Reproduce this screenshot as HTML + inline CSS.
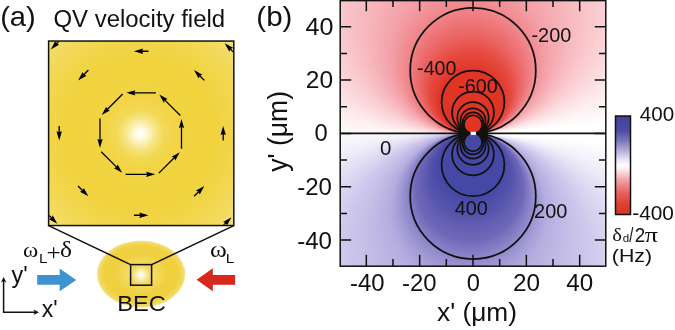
<!DOCTYPE html>
<html><head><meta charset="utf-8">
<style>
html,body{margin:0;padding:0;background:#fff;}
svg{display:block;}
text{font-family:"Liberation Sans",Arial,sans-serif;fill:#111;}
.serif{font-family:"Liberation Serif","Times New Roman",serif;}
</style></head>
<body>
<svg width="675" height="330" viewBox="0 0 675 330">
<defs>
<radialGradient id="boxg" gradientUnits="userSpaceOnUse" cx="140.4" cy="133.5" r="135">
<stop offset="0" stop-color="#ffffff"/>
<stop offset="0.03" stop-color="#fffbea"/>
<stop offset="0.07" stop-color="#fcf1bc"/>
<stop offset="0.12" stop-color="#f7e380"/>
<stop offset="0.18" stop-color="#f3d855"/>
<stop offset="0.27" stop-color="#f2d445"/>
<stop offset="0.5" stop-color="#f1d23c"/>
<stop offset="0.68" stop-color="#f2d548"/>
<stop offset="0.85" stop-color="#f3da5e"/>
<stop offset="1" stop-color="#f5e07a"/>
</radialGradient>
<radialGradient id="becg" gradientUnits="userSpaceOnUse" cx="141.1" cy="274" r="44.3" gradientTransform="translate(141.1 274) scale(1 0.756) translate(-141.1 -274)">
<stop offset="0" stop-color="#f7e592"/>
<stop offset="0.3" stop-color="#f4da66"/>
<stop offset="0.6" stop-color="#f0d040"/>
<stop offset="0.82" stop-color="#f0d03e"/>
<stop offset="0.92" stop-color="#f2d656"/>
<stop offset="0.97" stop-color="#f4de78"/>
<stop offset="1" stop-color="#f7e8a4"/>
</radialGradient>
<radialGradient id="sqg" gradientUnits="userSpaceOnUse" cx="141" cy="275" r="13">
<stop offset="0" stop-color="#ffffff"/>
<stop offset="0.2" stop-color="#fdf6d8"/>
<stop offset="0.5" stop-color="#f7e48e"/>
<stop offset="0.8" stop-color="#f2d65a"/>
<stop offset="1" stop-color="#f1d24a"/>
</radialGradient>
<linearGradient id="cbar" x1="0" y1="0" x2="0" y2="1">
<stop offset="0" stop-color="#42429c"/>
<stop offset="0.15" stop-color="#4c4ca2"/>
<stop offset="0.25" stop-color="#7876b8"/>
<stop offset="0.37" stop-color="#bdb9de"/>
<stop offset="0.45" stop-color="#ebe8f4"/>
<stop offset="0.5" stop-color="#fefefe"/>
<stop offset="0.55" stop-color="#fbe8ea"/>
<stop offset="0.65" stop-color="#f2a2a8"/>
<stop offset="0.78" stop-color="#e6625e"/>
<stop offset="0.9" stop-color="#de3e30"/>
<stop offset="1" stop-color="#dc3424"/>
</linearGradient>

<clipPath id="plot"><rect x="340" y="0" width="266" height="266"/></clipPath>
<clipPath id="top"><rect x="340" y="0" width="266" height="133.4"/></clipPath>
<clipPath id="bot"><rect x="340" y="133.4" width="266" height="133"/></clipPath>
<clipPath id="boxclip"><rect x="49.3" y="41.8" width="183.7" height="183"/></clipPath>
</defs>

<!-- ========== panel (a) ========== -->
<rect x="48.6" y="41.05" width="185.2" height="184.5" fill="url(#boxg)" stroke="#111" stroke-width="1.5"/>
<g clip-path="url(#boxclip)">
<line x1="148.50" y1="51.20" x2="141.60" y2="51.20" stroke="#000" stroke-width="1.35"/><path d="M133.90 51.20 L143.10 48.50 L142.10 51.20 L143.10 53.90 Z" fill="#000"/>
<line x1="204.34" y1="80.38" x2="199.47" y2="75.50" stroke="#000" stroke-width="1.35"/><path d="M194.02 70.06 L202.44 74.65 L199.82 75.85 L198.62 78.47 Z" fill="#000"/>
<line x1="223.20" y1="140.50" x2="223.20" y2="133.60" stroke="#000" stroke-width="1.35"/><path d="M223.20 125.90 L225.90 135.10 L223.20 134.10 L220.50 135.10 Z" fill="#000"/>
<line x1="194.02" y1="196.34" x2="198.90" y2="191.47" stroke="#000" stroke-width="1.35"/><path d="M204.34 186.02 L199.75 194.44 L198.55 191.82 L195.93 190.62 Z" fill="#000"/>
<line x1="133.90" y1="215.20" x2="140.80" y2="215.20" stroke="#000" stroke-width="1.35"/><path d="M148.50 215.20 L139.30 217.90 L140.30 215.20 L139.30 212.50 Z" fill="#000"/>
<line x1="78.06" y1="186.02" x2="82.93" y2="190.90" stroke="#000" stroke-width="1.35"/><path d="M88.38 196.34 L79.96 191.75 L82.58 190.55 L83.78 187.93 Z" fill="#000"/>
<line x1="59.20" y1="125.90" x2="59.20" y2="132.80" stroke="#000" stroke-width="1.35"/><path d="M59.20 140.50 L56.50 131.30 L59.20 132.30 L61.90 131.30 Z" fill="#000"/>
<line x1="88.38" y1="70.06" x2="83.50" y2="74.93" stroke="#000" stroke-width="1.35"/><path d="M78.06 80.38 L82.65 71.96 L83.85 74.58 L86.47 75.78 Z" fill="#000"/>
<line x1="61.02" y1="39.08" x2="56.14" y2="43.96" stroke="#000" stroke-width="1.35"/><path d="M50.70 49.40 L55.30 40.99 L56.50 43.60 L59.11 44.80 Z" fill="#000"/>
<line x1="235.02" y1="53.62" x2="230.14" y2="48.74" stroke="#000" stroke-width="1.35"/><path d="M224.70 43.30 L233.11 47.90 L230.50 49.10 L229.30 51.71 Z" fill="#000"/>
<line x1="46.98" y1="213.38" x2="51.86" y2="218.26" stroke="#000" stroke-width="1.35"/><path d="M57.30 223.70 L48.89 219.10 L51.50 217.90 L52.70 215.29 Z" fill="#000"/>
<line x1="221.18" y1="227.62" x2="226.06" y2="222.74" stroke="#000" stroke-width="1.35"/><path d="M231.50 217.30 L226.90 225.71 L225.70 223.10 L223.09 221.90 Z" fill="#000"/>
<line x1="155.93" y1="92.85" x2="133.77" y2="92.85" stroke="#000" stroke-width="1.30"/><path d="M126.27 92.85 L135.27 90.25 L134.27 92.85 L135.27 95.45 Z" fill="#000"/>
<line x1="122.67" y1="94.05" x2="107.00" y2="109.72" stroke="#000" stroke-width="1.30"/><path d="M101.70 115.02 L106.22 106.82 L107.35 109.37 L109.90 110.50 Z" fill="#000"/>
<line x1="100.00" y1="118.42" x2="100.00" y2="140.58" stroke="#000" stroke-width="1.30"/><path d="M100.00 148.08 L97.40 139.08 L100.00 140.08 L102.60 139.08 Z" fill="#000"/>
<line x1="101.20" y1="151.68" x2="116.87" y2="167.35" stroke="#000" stroke-width="1.30"/><path d="M122.17 172.65 L113.97 168.13 L116.52 167.00 L117.65 164.45 Z" fill="#000"/>
<line x1="125.57" y1="174.35" x2="147.73" y2="174.35" stroke="#000" stroke-width="1.30"/><path d="M155.23 174.35 L146.23 176.95 L147.23 174.35 L146.23 171.75 Z" fill="#000"/>
<line x1="158.83" y1="173.15" x2="174.50" y2="157.48" stroke="#000" stroke-width="1.30"/><path d="M179.80 152.18 L175.28 160.38 L174.15 157.83 L171.60 156.70 Z" fill="#000"/>
<line x1="181.50" y1="148.78" x2="181.50" y2="126.62" stroke="#000" stroke-width="1.30"/><path d="M181.50 119.12 L184.10 128.12 L181.50 127.12 L178.90 128.12 Z" fill="#000"/>
<line x1="180.30" y1="115.52" x2="164.63" y2="99.85" stroke="#000" stroke-width="1.30"/><path d="M159.33 94.55 L167.53 99.07 L164.98 100.20 L163.85 102.75 Z" fill="#000"/>
</g>
<!-- BEC -->
<ellipse cx="141.1" cy="274" rx="44.3" ry="33.5" fill="url(#becg)"/>
<path d="M48.6 225.6 L130.5 264.6 M233.8 225.6 L151.7 264.6" stroke="#111" stroke-width="1.5" fill="none"/>
<rect x="130.6" y="264.6" width="21" height="20.6" fill="url(#sqg)" stroke="#111" stroke-width="1.5"/>
<!-- laser arrows -->
<path d="M37.2 275.1 H59.7 V268.5 L76.2 279.9 L59.7 291.3 V284.7 H37.2 Z" fill="#3d92d0"/>
<path d="M235.1 275.1 H212.8 V268.3 L196.6 279.8 L212.8 291.3 V284.7 H235.1 Z" fill="#d8281e"/>
<!-- coordinate axes -->
<path d="M3.6 280 V312.2 H36" stroke="#111" stroke-width="1.5" fill="none"/>
<path d="M3.6 277 L6.4 282.4 L3.6 281 L0.9 282.4 Z" fill="#111"/>
<path d="M39 312.2 L33.4 315 L35 312.2 L33.4 309.4 Z" fill="#111"/>

<!-- ========== panel (b) ========== -->
<rect x="340" y="0" width="266" height="266" fill="#fff"/>
<g clip-path="url(#top)"><g transform="rotate(-3.5 473 133.4)">
<circle cx="473.0" cy="-3006.60" r="3140.00" fill="#fffdfd"/>
<circle cx="473.0" cy="-1436.60" r="1570.00" fill="#fffbfc"/>
<circle cx="473.0" cy="-913.27" r="1046.67" fill="#fef9fa"/>
<circle cx="473.0" cy="-651.60" r="785.00" fill="#fef7f8"/>
<circle cx="473.0" cy="-494.60" r="628.00" fill="#fef6f6"/>
<circle cx="473.0" cy="-389.93" r="523.33" fill="#fef4f5"/>
<circle cx="473.0" cy="-315.17" r="448.57" fill="#fef2f3"/>
<circle cx="473.0" cy="-259.10" r="392.50" fill="#fdf0f1"/>
<circle cx="473.0" cy="-215.49" r="348.89" fill="#fdeef0"/>
<circle cx="473.0" cy="-180.60" r="314.00" fill="#fdecee"/>
<circle cx="473.0" cy="-152.05" r="285.45" fill="#fde9ec"/>
<circle cx="473.0" cy="-128.27" r="261.67" fill="#fce7e9"/>
<circle cx="473.0" cy="-108.14" r="241.54" fill="#fce4e7"/>
<circle cx="473.0" cy="-90.89" r="224.29" fill="#fce2e5"/>
<circle cx="473.0" cy="-75.93" r="209.33" fill="#fcdfe2"/>
<circle cx="473.0" cy="-62.85" r="196.25" fill="#fbdde0"/>
<circle cx="473.0" cy="-51.31" r="184.71" fill="#fbdade"/>
<circle cx="473.0" cy="-41.04" r="174.44" fill="#fbd8db"/>
<circle cx="473.0" cy="-31.86" r="165.26" fill="#fbd5d9"/>
<circle cx="473.0" cy="-23.60" r="157.00" fill="#fad3d7"/>
<circle cx="473.0" cy="-16.12" r="149.52" fill="#fad0d4"/>
<circle cx="473.0" cy="-9.33" r="142.73" fill="#faced2"/>
<circle cx="473.0" cy="-3.12" r="136.52" fill="#facbd0"/>
<circle cx="473.0" cy="2.57" r="130.83" fill="#f9c9cd"/>
<circle cx="473.0" cy="7.80" r="125.60" fill="#f9c6cb"/>
<circle cx="473.0" cy="12.63" r="120.77" fill="#f9c3c9"/>
<circle cx="473.0" cy="17.10" r="116.30" fill="#f8c1c6"/>
<circle cx="473.0" cy="21.26" r="112.14" fill="#f8bec4"/>
<circle cx="473.0" cy="25.12" r="108.28" fill="#f7bcc1"/>
<circle cx="473.0" cy="28.73" r="104.67" fill="#f7b9bf"/>
<circle cx="473.0" cy="32.11" r="101.29" fill="#f7b7bd"/>
<circle cx="473.0" cy="35.28" r="98.12" fill="#f6b4ba"/>
<circle cx="473.0" cy="38.25" r="95.15" fill="#f6b2b8"/>
<circle cx="473.0" cy="41.05" r="92.35" fill="#f5afb5"/>
<circle cx="473.0" cy="43.69" r="89.71" fill="#f5adb3"/>
<circle cx="473.0" cy="46.18" r="87.22" fill="#f5aab1"/>
<circle cx="473.0" cy="48.54" r="84.86" fill="#f4a8ae"/>
<circle cx="473.0" cy="50.77" r="82.63" fill="#f4a5ac"/>
<circle cx="473.0" cy="52.89" r="80.51" fill="#f3a3a9"/>
<circle cx="473.0" cy="54.90" r="78.50" fill="#f3a0a7"/>
<circle cx="473.0" cy="56.81" r="76.59" fill="#f39da4"/>
<circle cx="473.0" cy="58.64" r="74.76" fill="#f29ba1"/>
<circle cx="473.0" cy="60.38" r="73.02" fill="#f2989e"/>
<circle cx="473.0" cy="62.04" r="71.36" fill="#f2959b"/>
<circle cx="473.0" cy="63.62" r="69.78" fill="#f19298"/>
<circle cx="473.0" cy="65.14" r="68.26" fill="#f19095"/>
<circle cx="473.0" cy="66.59" r="66.81" fill="#f18d92"/>
<circle cx="473.0" cy="67.98" r="65.42" fill="#f08a8f"/>
<circle cx="473.0" cy="69.32" r="64.08" fill="#f0878c"/>
<circle cx="473.0" cy="70.60" r="62.80" fill="#f08589"/>
<circle cx="473.0" cy="71.83" r="61.57" fill="#ef8286"/>
<circle cx="473.0" cy="73.02" r="60.38" fill="#ef7f83"/>
<circle cx="473.0" cy="74.15" r="59.25" fill="#ef7c80"/>
<circle cx="473.0" cy="75.25" r="58.15" fill="#ee7a7d"/>
<circle cx="473.0" cy="76.31" r="57.09" fill="#ee777a"/>
<circle cx="473.0" cy="77.33" r="56.07" fill="#ee7477"/>
<circle cx="473.0" cy="78.31" r="55.09" fill="#ed7174"/>
<circle cx="473.0" cy="79.26" r="54.14" fill="#ed6f71"/>
<circle cx="473.0" cy="80.18" r="53.22" fill="#ec6d6e"/>
<circle cx="473.0" cy="81.07" r="52.33" fill="#ec6b6b"/>
<circle cx="473.0" cy="81.92" r="51.48" fill="#ec6968"/>
<circle cx="473.0" cy="82.75" r="50.65" fill="#eb6766"/>
<circle cx="473.0" cy="83.56" r="49.84" fill="#eb6563"/>
<circle cx="473.0" cy="84.34" r="49.06" fill="#ea6360"/>
<circle cx="473.0" cy="85.09" r="48.31" fill="#ea615d"/>
<circle cx="473.0" cy="85.82" r="47.58" fill="#ea5f5b"/>
<circle cx="473.0" cy="86.53" r="46.87" fill="#e95c58"/>
<circle cx="473.0" cy="87.22" r="46.18" fill="#e95a55"/>
<circle cx="473.0" cy="87.89" r="45.51" fill="#e85852"/>
<circle cx="473.0" cy="88.54" r="44.86" fill="#e85650"/>
<circle cx="473.0" cy="89.17" r="44.23" fill="#e8544d"/>
<circle cx="473.0" cy="89.79" r="43.61" fill="#e7524a"/>
<circle cx="473.0" cy="90.39" r="43.01" fill="#e75047"/>
<circle cx="473.0" cy="90.97" r="42.43" fill="#e64e45"/>
<circle cx="473.0" cy="91.53" r="41.87" fill="#e64c42"/>
<circle cx="473.0" cy="92.08" r="41.32" fill="#e64b41"/>
<circle cx="473.0" cy="92.62" r="40.78" fill="#e64a40"/>
<circle cx="473.0" cy="93.14" r="40.26" fill="#e5493e"/>
<circle cx="473.0" cy="93.65" r="39.75" fill="#e5483d"/>
<circle cx="473.0" cy="94.15" r="39.25" fill="#e5473c"/>
<circle cx="473.0" cy="94.63" r="38.77" fill="#e5463b"/>
<circle cx="473.0" cy="95.11" r="38.29" fill="#e4453a"/>
<circle cx="473.0" cy="95.57" r="37.83" fill="#e44438"/>
<circle cx="473.0" cy="96.02" r="37.38" fill="#e44337"/>
<circle cx="473.0" cy="96.46" r="36.94" fill="#e44236"/>
<circle cx="473.0" cy="96.89" r="36.51" fill="#e34135"/>
<circle cx="473.0" cy="97.31" r="36.09" fill="#e34034"/>
<circle cx="473.0" cy="97.72" r="35.68" fill="#e34032"/>
<circle cx="473.0" cy="98.12" r="35.28" fill="#e33f31"/>
<circle cx="473.0" cy="98.51" r="34.89" fill="#e23e30"/>
<circle cx="473.0" cy="98.89" r="34.51" fill="#e23d2f"/>
<circle cx="473.0" cy="99.27" r="34.13" fill="#e23c2e"/>
<circle cx="473.0" cy="99.64" r="33.76" fill="#e23b2c"/>
<circle cx="473.0" cy="100.00" r="33.40" fill="#e13a2b"/>
<circle cx="473.0" cy="100.35" r="33.05" fill="#e1392a"/>
<circle cx="473.0" cy="100.69" r="32.71" fill="#e13829"/>
<circle cx="473.0" cy="101.03" r="32.37" fill="#e13728"/>
<circle cx="473.0" cy="101.36" r="32.04" fill="#e03626"/>
<circle cx="473.0" cy="101.68" r="31.72" fill="#e03525"/>
<circle cx="473.0" cy="102.00" r="31.40" fill="#e03424"/>
</g></g>
<g clip-path="url(#bot)"><g transform="rotate(3.5 473 133.4)">
<circle cx="473.0" cy="3273.40" r="3140.00" fill="#fefdfe"/>
<circle cx="473.0" cy="1703.40" r="1570.00" fill="#fcfbfe"/>
<circle cx="473.0" cy="1180.07" r="1046.67" fill="#fafafd"/>
<circle cx="473.0" cy="918.40" r="785.00" fill="#f9f8fd"/>
<circle cx="473.0" cy="761.40" r="628.00" fill="#f8f6fc"/>
<circle cx="473.0" cy="656.73" r="523.33" fill="#f6f4fb"/>
<circle cx="473.0" cy="581.97" r="448.57" fill="#f4f2fb"/>
<circle cx="473.0" cy="525.90" r="392.50" fill="#f3f1fa"/>
<circle cx="473.0" cy="482.29" r="348.89" fill="#f2effa"/>
<circle cx="473.0" cy="447.40" r="314.00" fill="#f0edf9"/>
<circle cx="473.0" cy="418.85" r="285.45" fill="#eeebf8"/>
<circle cx="473.0" cy="395.07" r="261.67" fill="#ece8f7"/>
<circle cx="473.0" cy="374.94" r="241.54" fill="#e9e6f6"/>
<circle cx="473.0" cy="357.69" r="224.29" fill="#e7e3f6"/>
<circle cx="473.0" cy="342.73" r="209.33" fill="#e5e1f5"/>
<circle cx="473.0" cy="329.65" r="196.25" fill="#e3def4"/>
<circle cx="473.0" cy="318.11" r="184.71" fill="#e1dcf3"/>
<circle cx="473.0" cy="307.84" r="174.44" fill="#ded9f2"/>
<circle cx="473.0" cy="298.66" r="165.26" fill="#dcd7f1"/>
<circle cx="473.0" cy="290.40" r="157.00" fill="#dad4f0"/>
<circle cx="473.0" cy="282.92" r="149.52" fill="#d8d2ef"/>
<circle cx="473.0" cy="276.13" r="142.73" fill="#d6cfef"/>
<circle cx="473.0" cy="269.92" r="136.52" fill="#d3cdee"/>
<circle cx="473.0" cy="264.23" r="130.83" fill="#d1caed"/>
<circle cx="473.0" cy="259.00" r="125.60" fill="#cfc8ec"/>
<circle cx="473.0" cy="254.17" r="120.77" fill="#cdc6eb"/>
<circle cx="473.0" cy="249.70" r="116.30" fill="#cbc4ea"/>
<circle cx="473.0" cy="245.54" r="112.14" fill="#cac2e9"/>
<circle cx="473.0" cy="241.68" r="108.28" fill="#c8c1e8"/>
<circle cx="473.0" cy="238.07" r="104.67" fill="#c6bfe7"/>
<circle cx="473.0" cy="234.69" r="101.29" fill="#c4bde6"/>
<circle cx="473.0" cy="231.53" r="98.12" fill="#c2bbe5"/>
<circle cx="473.0" cy="228.55" r="95.15" fill="#c1b9e5"/>
<circle cx="473.0" cy="225.75" r="92.35" fill="#bfb7e4"/>
<circle cx="473.0" cy="223.11" r="89.71" fill="#bdb5e3"/>
<circle cx="473.0" cy="220.62" r="87.22" fill="#bbb3e2"/>
<circle cx="473.0" cy="218.26" r="84.86" fill="#b9b2e1"/>
<circle cx="473.0" cy="216.03" r="82.63" fill="#b8b0e0"/>
<circle cx="473.0" cy="213.91" r="80.51" fill="#b6aedf"/>
<circle cx="473.0" cy="211.90" r="78.50" fill="#b4acde"/>
<circle cx="473.0" cy="209.99" r="76.59" fill="#b0a8dc"/>
<circle cx="473.0" cy="208.16" r="74.76" fill="#aca4da"/>
<circle cx="473.0" cy="206.42" r="73.02" fill="#a8a1d8"/>
<circle cx="473.0" cy="204.76" r="71.36" fill="#a49dd6"/>
<circle cx="473.0" cy="203.18" r="69.78" fill="#a199d3"/>
<circle cx="473.0" cy="201.66" r="68.26" fill="#9d95d1"/>
<circle cx="473.0" cy="200.21" r="66.81" fill="#9991cf"/>
<circle cx="473.0" cy="198.82" r="65.42" fill="#958dcd"/>
<circle cx="473.0" cy="197.48" r="64.08" fill="#918acb"/>
<circle cx="473.0" cy="196.20" r="62.80" fill="#8d86c9"/>
<circle cx="473.0" cy="194.97" r="61.57" fill="#8982c7"/>
<circle cx="473.0" cy="193.78" r="60.38" fill="#857ec5"/>
<circle cx="473.0" cy="192.65" r="59.25" fill="#817ac3"/>
<circle cx="473.0" cy="191.55" r="58.15" fill="#7e76c0"/>
<circle cx="473.0" cy="190.49" r="57.09" fill="#7a73be"/>
<circle cx="473.0" cy="189.47" r="56.07" fill="#766fbc"/>
<circle cx="473.0" cy="188.49" r="55.09" fill="#726bba"/>
<circle cx="473.0" cy="187.54" r="54.14" fill="#6f68b9"/>
<circle cx="473.0" cy="186.62" r="53.22" fill="#6e67b8"/>
<circle cx="473.0" cy="185.73" r="52.33" fill="#6c66b7"/>
<circle cx="473.0" cy="184.88" r="51.48" fill="#6b65b6"/>
<circle cx="473.0" cy="184.05" r="50.65" fill="#6964b6"/>
<circle cx="473.0" cy="183.24" r="49.84" fill="#6862b5"/>
<circle cx="473.0" cy="182.46" r="49.06" fill="#6661b4"/>
<circle cx="473.0" cy="181.71" r="48.31" fill="#6560b3"/>
<circle cx="473.0" cy="180.98" r="47.58" fill="#635fb3"/>
<circle cx="473.0" cy="180.27" r="46.87" fill="#625eb2"/>
<circle cx="473.0" cy="179.58" r="46.18" fill="#605cb1"/>
<circle cx="473.0" cy="178.91" r="45.51" fill="#5f5bb0"/>
<circle cx="473.0" cy="178.26" r="44.86" fill="#5d5ab0"/>
<circle cx="473.0" cy="177.63" r="44.23" fill="#5c59af"/>
<circle cx="473.0" cy="177.01" r="43.61" fill="#5a58ae"/>
<circle cx="473.0" cy="176.41" r="43.01" fill="#5956ad"/>
<circle cx="473.0" cy="175.83" r="42.43" fill="#5755ad"/>
<circle cx="473.0" cy="175.27" r="41.87" fill="#5654ac"/>
<circle cx="473.0" cy="174.72" r="41.32" fill="#5554ac"/>
<circle cx="473.0" cy="174.18" r="40.78" fill="#5553ac"/>
<circle cx="473.0" cy="173.66" r="40.26" fill="#5453ab"/>
<circle cx="473.0" cy="173.15" r="39.75" fill="#5352ab"/>
<circle cx="473.0" cy="172.65" r="39.25" fill="#5352ab"/>
<circle cx="473.0" cy="172.17" r="38.77" fill="#5251ab"/>
<circle cx="473.0" cy="171.69" r="38.29" fill="#5251aa"/>
<circle cx="473.0" cy="171.23" r="37.83" fill="#5150aa"/>
<circle cx="473.0" cy="170.78" r="37.38" fill="#5050aa"/>
<circle cx="473.0" cy="170.34" r="36.94" fill="#504faa"/>
<circle cx="473.0" cy="169.91" r="36.51" fill="#4f4fa9"/>
<circle cx="473.0" cy="169.49" r="36.09" fill="#4e4ea9"/>
<circle cx="473.0" cy="169.08" r="35.68" fill="#4e4ea9"/>
<circle cx="473.0" cy="168.68" r="35.28" fill="#4d4da9"/>
<circle cx="473.0" cy="168.29" r="34.89" fill="#4c4da8"/>
<circle cx="473.0" cy="167.91" r="34.51" fill="#4c4ca8"/>
<circle cx="473.0" cy="167.53" r="34.13" fill="#4b4ca8"/>
<circle cx="473.0" cy="167.16" r="33.76" fill="#4a4ba8"/>
<circle cx="473.0" cy="166.80" r="33.40" fill="#4a4ba7"/>
<circle cx="473.0" cy="166.45" r="33.05" fill="#494aa7"/>
<circle cx="473.0" cy="166.11" r="32.71" fill="#494aa7"/>
<circle cx="473.0" cy="165.77" r="32.37" fill="#4849a7"/>
<circle cx="473.0" cy="165.44" r="32.04" fill="#4749a6"/>
<circle cx="473.0" cy="165.12" r="31.72" fill="#4748a6"/>
<circle cx="473.0" cy="164.80" r="31.40" fill="#4648a6"/>
</g></g>
<g clip-path="url(#plot)" fill="none" stroke="#111" stroke-width="1.75">
<circle cx="473.0" cy="70.60" r="62.80"/>
<circle cx="473.0" cy="196.20" r="62.80"/>
<circle cx="473.0" cy="102.00" r="31.40"/>
<circle cx="473.0" cy="164.80" r="31.40"/>
<circle cx="473.0" cy="112.47" r="20.93"/>
<circle cx="473.0" cy="154.33" r="20.93"/>
<circle cx="473.0" cy="117.70" r="15.70"/>
<circle cx="473.0" cy="149.10" r="15.70"/>
<circle cx="473.0" cy="120.84" r="12.56"/>
<circle cx="473.0" cy="145.96" r="12.56"/>
<circle cx="473.0" cy="122.93" r="10.47"/>
<circle cx="473.0" cy="143.87" r="10.47"/>
<circle cx="473.0" cy="124.43" r="8.97"/>
<circle cx="473.0" cy="142.37" r="8.97"/>
<path d="M340 133.4 H606"/>
</g>
<ellipse cx="462.4" cy="132.8" rx="4" ry="8.5" fill="#111"/>
<ellipse cx="483.8" cy="132.6" rx="4" ry="9.5" fill="#111"/>
<circle cx="473.1" cy="124.6" r="8.1" fill="#e03424"/>
<circle cx="473.1" cy="142.0" r="7.9" fill="#4648a6"/>
<rect x="470.6" y="131.8" width="5.3" height="3.1" fill="#fff"/>
<rect x="340.2" y="0.6" width="265.6" height="265.6" fill="none" stroke="#111" stroke-width="1.5"/>
<path d="M366.32 266V254.80 M366.32 0V11.20 M392.99 266V259.00 M392.99 0V7.00 M419.66 266V254.80 M419.66 0V11.20 M446.33 266V259.00 M446.33 0V7.00 M473.00 266V254.80 M473.00 0V11.20 M499.67 266V259.00 M499.67 0V7.00 M526.34 266V254.80 M526.34 0V11.20 M553.01 266V259.00 M553.01 0V7.00 M579.68 266V254.80 M579.68 0V11.20 M340 240.08H351.20 M606 240.08H594.80 M340 213.41H347.00 M606 213.41H599.00 M340 186.74H351.20 M606 186.74H594.80 M340 160.07H347.00 M606 160.07H599.00 M340 133.40H351.20 M606 133.40H594.80 M340 106.73H347.00 M606 106.73H599.00 M340 80.06H351.20 M606 80.06H594.80 M340 53.39H347.00 M606 53.39H599.00 M340 26.72H351.20 M606 26.72H594.80" stroke="#111" stroke-width="1.5" fill="none"/>
<!-- colorbar -->
<rect x="615.5" y="116" width="15" height="98.5" fill="url(#cbar)" stroke="#111" stroke-width="1.5"/>
<text transform="translate(0.15 26.48) scale(1.035 1)" font-size="28.19">(a)</text>
<text transform="translate(53.50 26.54) scale(1.014 1)" font-size="23.62">QV velocity field</text>
<text transform="translate(256.33 26.41) scale(1.036 1)" font-size="28.51">(b)</text>
<text transform="translate(305.40 34.65) scale(1.026 1)" font-size="24.51">40</text>
<text transform="translate(305.87 87.86) scale(1.024 1)" font-size="23.94">20</text>
<text transform="translate(314.45 141.26) scale(1.010 1)" font-size="23.52">0</text>
<text transform="translate(297.14 195.46) scale(0.986 1)" font-size="24.37">-20</text>
<text x="297.14" y="248.66" font-size="24.08">-40</text>
<text transform="translate(350.04 291.46) scale(1.012 1)" font-size="23.66">-40</text>
<text transform="translate(401.95 291.46) scale(1.009 1)" font-size="23.66">-20</text>
<text transform="translate(466.85 291.46) scale(1.004 1)" font-size="23.66">0</text>
<text transform="translate(513.08 291.46) scale(1.028 1)" font-size="23.66">20</text>
<text transform="translate(566.22 291.46) scale(1.022 1)" font-size="23.66">40</text>
<text x="437.04" y="321.08" font-size="26.28">x' (μm)</text>
<text transform="translate(531.50 42.40) scale(0.974 1)" font-size="20.42">-200</text>
<text transform="translate(417.11 75.49) scale(0.957 1)" font-size="20.56">-400</text>
<text transform="translate(458.31 93.11) scale(1.013 1)" font-size="19.44">-600</text>
<text transform="translate(379.88 154.50) scale(1.007 1)" font-size="20.28">0</text>
<text transform="translate(454.70 215.10) scale(0.991 1)" font-size="20.00">400</text>
<text transform="translate(534.10 218.40) scale(0.990 1)" font-size="20.14">200</text>
<text transform="translate(639.79 121.49) scale(0.989 1)" font-size="20.85">400</text>
<text transform="translate(632.27 219.89) scale(1.013 1)" font-size="20.56">-400</text>
<text transform="translate(611.82 261.56) scale(1.109 1)" font-size="19.26">(Hz)</text>
<text transform="translate(117.21 311.47) scale(1.044 1)" font-size="22.68">BEC</text>
<text x="11.50" y="282.50" font-size="23.33">y'</text>
<text transform="translate(41.87 317.40) scale(0.974 1)" font-size="23.62">x'</text>
<text class="serif" transform="translate(23.08 257.19) scale(1.097 1)" font-size="21.06">ω</text>
<text class="serif" transform="translate(46.53 260.07) scale(1.128 1)" font-size="22.44">+</text>
<text class="serif" transform="translate(60.08 257.38) scale(1.141 1)" font-size="22.25">δ</text>
<text class="serif" transform="translate(209.88 257.28) scale(1.153 1)" font-size="22.13">ω</text>
<text transform="translate(39.08 262.80) scale(1.155 1)" font-size="13.19">L</text>
<text transform="translate(225.76 262.80) scale(1.147 1)" font-size="13.48">L</text>
<text class="serif" transform="translate(612.28 240.51) scale(1.071 1)" font-size="19.15">δ</text>
<text transform="translate(622.64 242.19) scale(1.069 1)" font-size="10.81">d</text>
<text transform="translate(629.20 242.30) scale(0.699 1)" font-size="20.96">/</text>
<text transform="translate(634.85 241.80) scale(0.946 1)" font-size="20.00">2</text>
<text class="serif" transform="translate(644.64 241.70) scale(1.288 1)" font-size="20.21">π</text>
<text transform="translate(286.79 171.8) rotate(-90) scale(0.995 1)" font-size="26.70">y' (μm)</text>
</svg>
</body></html>
